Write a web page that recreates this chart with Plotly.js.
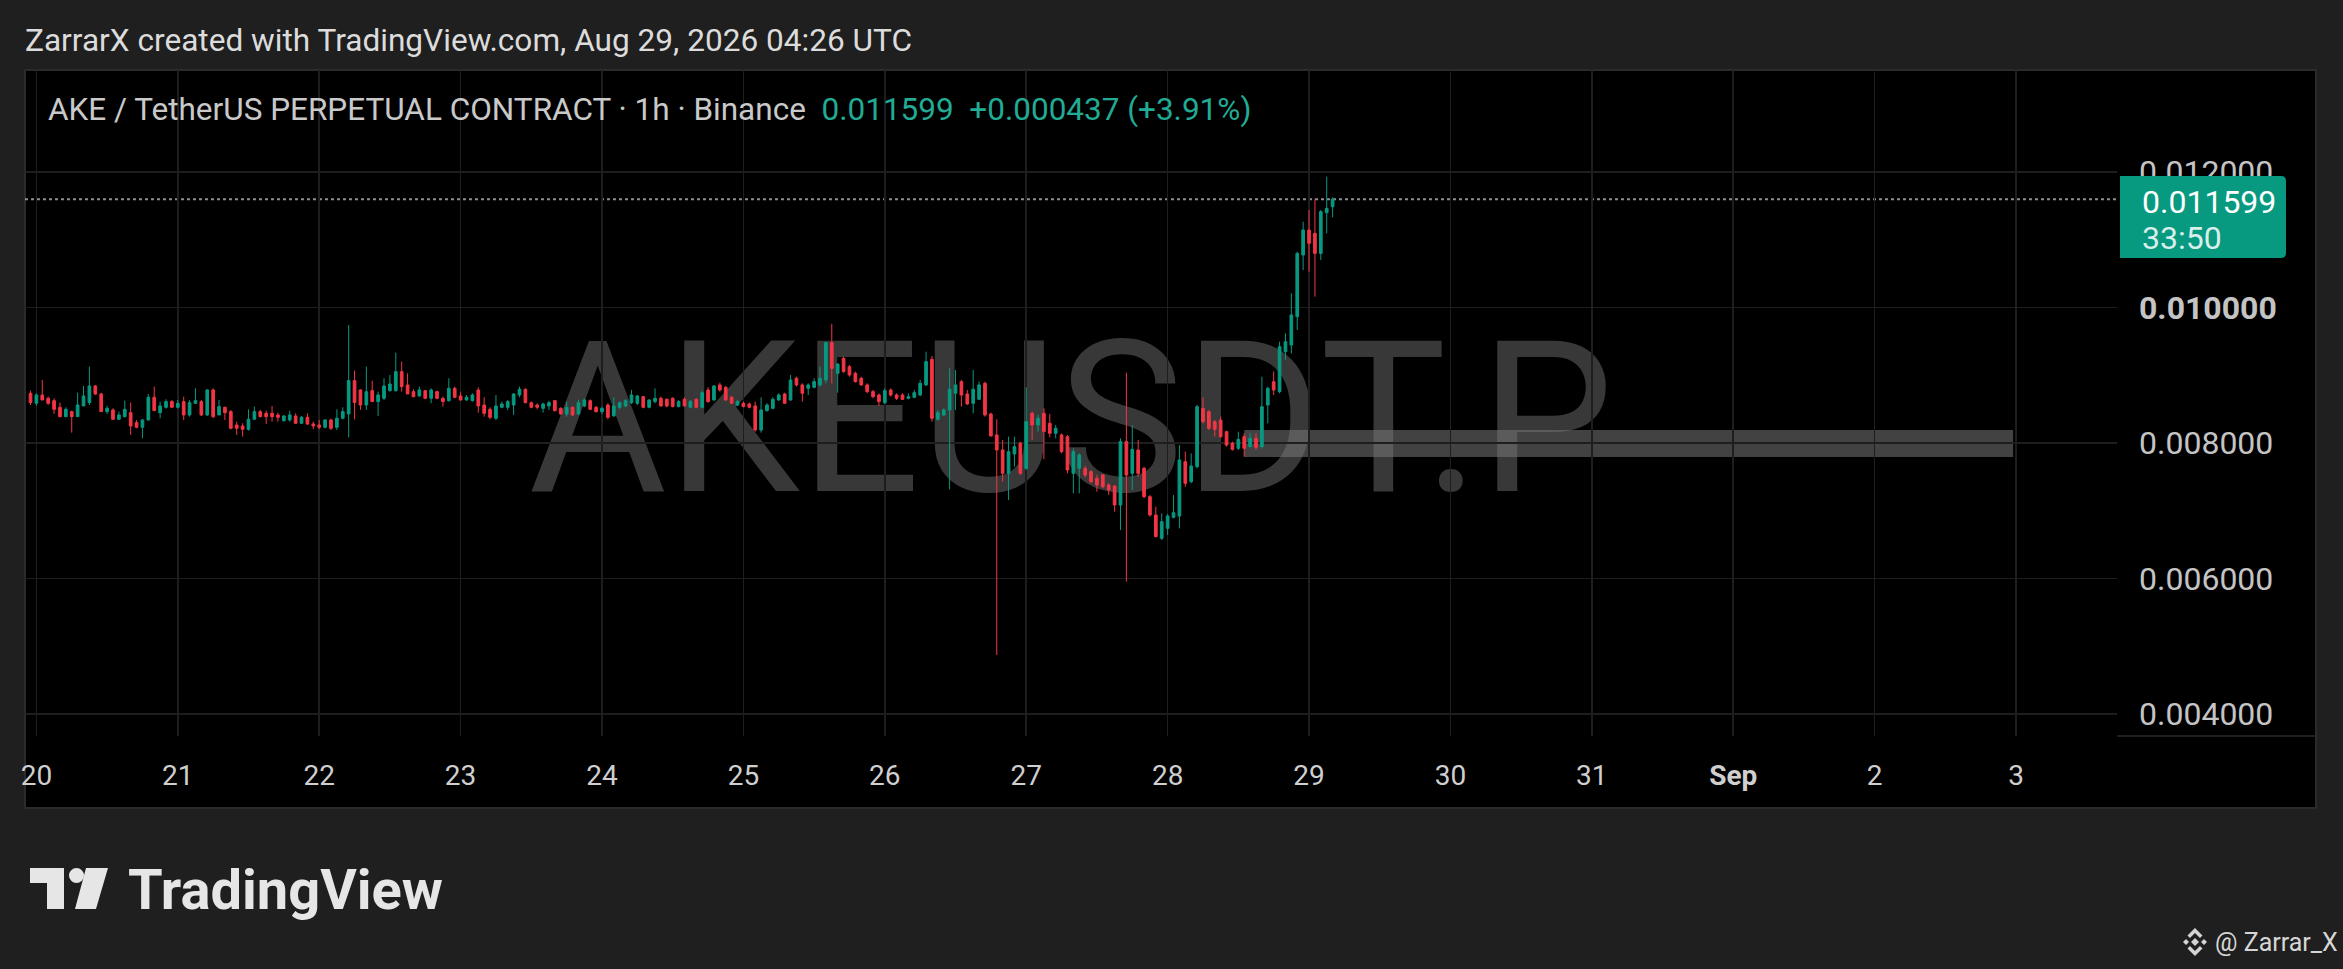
<!DOCTYPE html>
<html><head><meta charset="utf-8">
<script src="https://cdn.plot.ly/plotly-3.0.1.min.js"></script>
<style>html,body{margin:0;padding:0;background:#1f1f1f;overflow:hidden}#chart{width:2343px;height:969px}</style>
</head><body><div id="chart"></div>
<script>
// ---------- data ----------
const startTime = '2026-08-19T23:00:00Z'; // first hourly candle
const open = [
0.008734,0.008586,0.008709,0.008660,0.008625,0.008527,0.008389,0.008463,0.008389,0.008547,
0.008596,0.008842,0.008724,0.008463,0.008488,0.008350,0.008389,0.008448,0.008301,0.008232,
0.008340,0.008675,0.008448,0.008527,0.008611,0.008527,0.008611,0.008414,0.008586,0.008611,
0.008414,0.008783,0.008414,0.008527,0.008463,0.008266,0.008251,0.008202,0.008350,0.008463,
0.008438,0.008438,0.008414,0.008330,0.008340,0.008399,0.008291,0.008379,0.008281,0.008266,
0.008232,0.008340,0.008232,0.008365,0.008429,0.008921,0.008783,0.008561,0.008773,0.008611,
0.008660,0.008773,0.008773,0.009053,0.008857,0.008758,0.008694,0.008773,0.008660,0.008758,
0.008660,0.008625,0.008807,0.008694,0.008635,0.008625,0.008783,0.008561,0.008497,0.008365,
0.008527,0.008527,0.008561,0.008709,0.008793,0.008596,0.008561,0.008512,0.008547,0.008625,
0.008512,0.008429,0.008527,0.008429,0.008547,0.008625,0.008527,0.008463,0.008561,0.008399,
0.008527,0.008547,0.008596,0.008586,0.008684,0.008527,0.008611,0.008660,0.008645,0.008660,
0.008537,0.008645,0.008527,0.008645,0.008527,0.008783,0.008635,0.008857,0.008822,0.008675,
0.008561,0.008586,0.008576,0.008547,0.008192,0.008478,0.008512,0.008635,0.008724,0.008635,
0.008955,0.008857,0.008807,0.008822,0.008857,0.008930,0.009481,0.009029,0.009250,0.009127,
0.009029,0.008955,0.008857,0.008758,0.008709,0.008596,0.008783,0.008709,0.008709,0.008660,
0.008675,0.008709,0.008857,0.009235,0.008350,0.008414,0.008488,0.008734,0.008906,0.008724,
0.008586,0.008645,0.008881,0.008429,0.008118,0.007897,0.007553,0.007838,0.007995,0.007626,
0.008438,0.008266,0.008438,0.008291,0.008143,0.008118,0.008094,0.007552,0.007626,0.007626,
0.007577,0.007478,0.007528,0.007380,0.007365,0.007085,0.008020,0.007552,0.007897,0.007626,
0.007208,0.006937,0.006593,0.006740,0.006903,0.006922,0.007724,0.007429,0.007651,0.008512,
0.008462,0.008315,0.008339,0.008167,0.007995,0.007921,0.008094,0.007946,0.008069,0.007946,
0.008561,0.008905,0.008758,0.009348,0.009446,0.009865,0.010775,0.011144,0.011095,0.010799,
0.011400,0.011488];
const high = [
0.008773,0.008734,0.008930,0.008684,0.008660,0.008596,0.008527,0.008478,0.008743,0.008842,
0.009127,0.008857,0.008743,0.008547,0.008512,0.008463,0.008625,0.008596,0.008340,0.008350,
0.008724,0.008832,0.008611,0.008645,0.008635,0.008635,0.008684,0.008635,0.008807,0.008635,
0.008793,0.008807,0.008635,0.008537,0.008488,0.008315,0.008291,0.008497,0.008537,0.008488,
0.008478,0.008547,0.008448,0.008414,0.008478,0.008438,0.008399,0.008438,0.008315,0.008340,
0.008350,0.008360,0.008497,0.008527,0.009742,0.009068,0.008793,0.009127,0.008921,0.008758,
0.008955,0.009004,0.009334,0.009201,0.009029,0.008793,0.008832,0.008783,0.008807,0.008773,
0.008684,0.008955,0.008832,0.008758,0.008709,0.008734,0.008822,0.008675,0.008527,0.008709,
0.008611,0.008635,0.008734,0.008832,0.008807,0.008611,0.008586,0.008596,0.008625,0.008635,
0.008527,0.008611,0.008537,0.008635,0.008660,0.008645,0.008547,0.008537,0.008586,0.008675,
0.008611,0.008645,0.008783,0.008709,0.008694,0.008645,0.008807,0.008684,0.008660,0.008675,
0.008635,0.008675,0.008635,0.008660,0.008773,0.008822,0.008857,0.008891,0.008842,0.008694,
0.008635,0.008611,0.008596,0.008611,0.008675,0.008586,0.008675,0.008734,0.008743,0.009004,
0.008979,0.008881,0.008881,0.008955,0.009127,0.009496,0.009760,0.009176,0.009275,0.009152,
0.009053,0.008979,0.008881,0.008783,0.008734,0.008807,0.008807,0.008734,0.008734,0.008734,
0.008783,0.008930,0.009348,0.009284,0.008488,0.008512,0.009102,0.009078,0.008930,0.008783,
0.009078,0.008906,0.008906,0.008448,0.008350,0.008045,0.008094,0.008094,0.008020,0.008822,
0.008463,0.008414,0.008512,0.008429,0.008266,0.008143,0.008118,0.007921,0.007847,0.007660,
0.007602,0.007528,0.007542,0.007405,0.007380,0.008069,0.009038,0.008266,0.008044,0.007651,
0.007232,0.007060,0.006962,0.006952,0.007232,0.007970,0.007872,0.007847,0.008561,0.008674,
0.008487,0.008339,0.008389,0.008182,0.008020,0.008167,0.008143,0.008143,0.008143,0.008979,
0.008831,0.009053,0.009496,0.009619,0.010209,0.010824,0.011267,0.011439,0.011596,0.011439,
0.011931,0.011626];
const low = [
0.008561,0.008547,0.008635,0.008561,0.008429,0.008379,0.008379,0.008153,0.008389,0.008547,
0.008561,0.008709,0.008463,0.008429,0.008340,0.008340,0.008379,0.008119,0.008217,0.008069,
0.008330,0.008478,0.008365,0.008507,0.008517,0.008512,0.008340,0.008389,0.008576,0.008399,
0.008399,0.008365,0.008414,0.008340,0.008202,0.008119,0.008094,0.008183,0.008340,0.008379,
0.008281,0.008315,0.008315,0.008315,0.008315,0.008281,0.008281,0.008266,0.008202,0.008202,
0.008217,0.008192,0.008192,0.008350,0.008084,0.008350,0.008488,0.008488,0.008611,0.008399,
0.008635,0.008758,0.008758,0.008758,0.008724,0.008675,0.008684,0.008645,0.008586,0.008645,
0.008537,0.008611,0.008660,0.008625,0.008625,0.008611,0.008448,0.008389,0.008350,0.008340,
0.008512,0.008488,0.008414,0.008675,0.008586,0.008512,0.008497,0.008448,0.008488,0.008463,
0.008414,0.008389,0.008399,0.008414,0.008527,0.008488,0.008448,0.008429,0.008350,0.008389,
0.008497,0.008527,0.008576,0.008561,0.008512,0.008512,0.008586,0.008537,0.008527,0.008527,
0.008527,0.008537,0.008512,0.008512,0.008512,0.008596,0.008625,0.008758,0.008625,0.008576,
0.008547,0.008527,0.008512,0.008168,0.008153,0.008463,0.008497,0.008625,0.008576,0.008625,
0.008832,0.008611,0.008709,0.008807,0.008832,0.008881,0.008881,0.008743,0.009038,0.008979,
0.008891,0.008842,0.008734,0.008660,0.008547,0.008576,0.008684,0.008635,0.008635,0.008645,
0.008660,0.008694,0.008842,0.008315,0.008330,0.008399,0.007316,0.008488,0.008537,0.008561,
0.008438,0.008635,0.008389,0.008094,0.004871,0.007430,0.007159,0.007651,0.007528,0.007602,
0.008045,0.008168,0.007759,0.008084,0.008069,0.007848,0.007553,0.007257,0.007257,0.007493,
0.007405,0.007282,0.007331,0.007232,0.006986,0.006716,0.005953,0.007306,0.007503,0.007183,
0.006913,0.006608,0.006568,0.006642,0.006888,0.006740,0.007355,0.007405,0.007626,0.008290,
0.008192,0.008094,0.008069,0.007946,0.007887,0.007897,0.007798,0.007936,0.007897,0.007921,
0.008290,0.008708,0.008733,0.009225,0.009323,0.009668,0.010553,0.010529,0.010160,0.010701,
0.011095,0.011331];
const close = [
0.008596,0.008709,0.008635,0.008586,0.008497,0.008389,0.008497,0.008389,0.008561,0.008694,
0.008842,0.008724,0.008463,0.008512,0.008350,0.008414,0.008497,0.008251,0.008232,0.008340,
0.008675,0.008478,0.008547,0.008611,0.008527,0.008586,0.008414,0.008596,0.008625,0.008414,
0.008783,0.008389,0.008537,0.008448,0.008217,0.008217,0.008202,0.008350,0.008463,0.008389,
0.008389,0.008389,0.008379,0.008399,0.008414,0.008291,0.008379,0.008281,0.008251,0.008232,
0.008340,0.008217,0.008365,0.008463,0.008921,0.008596,0.008561,0.008758,0.008611,0.008709,
0.008842,0.008871,0.009053,0.008832,0.008724,0.008684,0.008783,0.008660,0.008783,0.008660,
0.008611,0.008807,0.008675,0.008635,0.008675,0.008709,0.008547,0.008438,0.008379,0.008547,
0.008576,0.008611,0.008724,0.008793,0.008596,0.008527,0.008527,0.008576,0.008596,0.008478,
0.008429,0.008527,0.008414,0.008596,0.008635,0.008497,0.008463,0.008512,0.008379,0.008547,
0.008596,0.008625,0.008709,0.008694,0.008527,0.008635,0.008660,0.008547,0.008547,0.008537,
0.008611,0.008547,0.008611,0.008527,0.008743,0.008611,0.008842,0.008783,0.008635,0.008586,
0.008611,0.008537,0.008527,0.008192,0.008488,0.008561,0.008645,0.008709,0.008586,0.008930,
0.008857,0.008734,0.008857,0.008906,0.008955,0.009481,0.009102,0.009166,0.009053,0.009004,
0.008906,0.008857,0.008758,0.008684,0.008611,0.008773,0.008709,0.008660,0.008645,0.008684,
0.008743,0.008881,0.009201,0.008364,0.008448,0.008488,0.008793,0.008857,0.008709,0.008576,
0.008793,0.008857,0.008414,0.008104,0.007897,0.007553,0.007872,0.007946,0.007553,0.008315,
0.008266,0.008364,0.008168,0.008143,0.008217,0.007872,0.007602,0.007872,0.007823,0.007528,
0.007429,0.007380,0.007355,0.007306,0.007085,0.008020,0.007528,0.007906,0.007552,0.007208,
0.006937,0.006618,0.006839,0.006922,0.006971,0.007749,0.007405,0.007660,0.008536,0.008315,
0.008216,0.008202,0.008094,0.007970,0.007906,0.008054,0.007921,0.008069,0.007936,0.008536,
0.008807,0.008782,0.009422,0.009496,0.009889,0.010799,0.011144,0.010947,0.010799,0.011414,
0.011464,0.011599];

const dayTicks = ['2026-08-20','2026-08-21','2026-08-22','2026-08-23','2026-08-24','2026-08-25','2026-08-26','2026-08-27','2026-08-28','2026-08-29','2026-08-30','2026-08-31','2026-09-01','2026-09-02','2026-09-03'];
const dayLabels = ['20','21','22','23','24','25','26','27','28','29','30','31','<b>Sep</b>','2','3'];
const priceTicks = [0.004, 0.006, 0.008, 0.010, 0.012];
const priceLabels = ['0.004000','0.006000','0.008000','<b>0.010000</b>','0.012000'];
const lastPrice = 0.011599;
const lastPriceText = '0.011599';
const countdownText = '33:50';
const headerText = 'ZarrarX created with TradingView.com, Aug 29, 2026 04:26 UTC';
const symbolText = 'AKE / TetherUS PERPETUAL CONTRACT · 1h · Binance';
const valuesText = '0.011599\u00a0\u00a0+0.000437 (+3.91%)';
const watermarkText = 'AKEUSDT.P';
const bandX = ['2026-08-28 13:00', '2026-09-02 23:30'];
const bandY = [0.007793, 0.008192];
const xRange = ['2026-08-19 22:04', '2026-09-03 17:08'];
const yRange = [0.003675, 0.013506];

// ---------- build ----------
const t0 = Date.parse(startTime);
const times = open.map((_, i) => new Date(t0 + i * 3600000).toISOString().slice(0, 16).replace('T', ' '));

const W = 2343, H = 969, L = 25, R = 2117, T = 70, B = 736;
const X = px => (px - L) / (R - L);
const Y = py => (B - py) / (B - T);
const P = (px, py) => X(px).toFixed(5) + ',' + Y(py).toFixed(5);
const poly = pts => 'M' + pts.map(p => P(p[0], p[1])).join('L') + 'Z';

const UP = '#089981', DOWN = '#f23645';
const FONT = 'Roboto, "Noto Sans", sans-serif';

const trace = {
  type: 'candlestick', x: times, open: open, high: high, low: low, close: close,
  increasing: {line: {color: UP, width: 1}, fillcolor: UP},
  decreasing: {line: {color: DOWN, width: 1}, fillcolor: DOWN},
  whiskerwidth: 0, hoverinfo: 'skip', showlegend: false
};

const paperShape = (extra) => Object.assign({xref: 'paper', yref: 'paper', line: {width: 0}}, extra);

const shapes = [
  // pane
  paperShape({type: 'rect', layer: 'below', x0: X(25), x1: X(2316), y0: Y(808), y1: Y(70), fillcolor: '#000000', line: {color: '#2b2b2b', width: 2}}),
  // watermark
  paperShape({type: 'rect', layer: 'below', x0: 0, x1: 1, y0: 0, y1: 1, fillcolor: 'rgba(0,0,0,0)',
    label: {text: watermarkText, textposition: 'middle center', font: {family: FONT, size: 212, color: '#383838'}}}),
  // drawn band
  {type: 'rect', layer: 'below', xref: 'x', yref: 'y', x0: bandX[0], x1: bandX[1], y0: bandY[0], y1: bandY[1],
    fillcolor: 'rgba(120,120,120,0.55)', line: {width: 0}},
  // last price dotted line
  {type: 'line', layer: 'below', xref: 'paper', yref: 'y', x0: 0, x1: 1, y0: lastPrice, y1: lastPrice,
    line: {color: 'rgba(190,190,190,0.75)', width: 2, dash: 'dot'}},
  // separator under price axis
  paperShape({type: 'line', layer: 'above', x0: X(2117), x1: X(2316), y0: Y(736), y1: Y(736), line: {color: '#2a2a2a', width: 1.5}}),
  // price box
  paperShape({type: 'path', layer: 'above', fillcolor: UP,
    path: 'M' + P(2120, 176) + 'L' + P(2281, 176) + 'Q' + P(2286, 176) + ' ' + P(2286, 181) + 'L' + P(2286, 253) + 'Q' + P(2286, 258) + ' ' + P(2281, 258) + 'L' + P(2120, 258) + 'Z'}),
  // TradingView logo
  paperShape({type: 'path', layer: 'above', fillcolor: '#e6e6e6', path: poly([[30,868],[64,868],[64,909],[47,909],[47,883],[30,883]])}),
  paperShape({type: 'circle', layer: 'above', fillcolor: '#e6e6e6', x0: X(69), x1: X(84), y0: Y(883), y1: Y(868)}),
  paperShape({type: 'path', layer: 'above', fillcolor: '#e6e6e6', path: poly([[86,868],[108,868],[96,909],[75,909]])}),
  // Binance mark
  paperShape({type: 'path', layer: 'above', fillcolor: '#d4d4d4', path: poly([[2195,938],[2199,942],[2195,946],[2191,942]])}),
  paperShape({type: 'path', layer: 'above', fillcolor: '#d4d4d4', path: poly([[2186,939],[2189,942],[2186,945],[2183,942]])}),
  paperShape({type: 'path', layer: 'above', fillcolor: '#d4d4d4', path: poly([[2204,939],[2207,942],[2204,945],[2201,942]])}),
  paperShape({type: 'path', layer: 'above', fillcolor: '#d4d4d4', path: poly([[2187.5,935.5],[2195,928],[2202.5,935.5],[2200,938],[2195,933],[2190,938]])}),
  paperShape({type: 'path', layer: 'above', fillcolor: '#d4d4d4', path: poly([[2187.5,948.5],[2195,956],[2202.5,948.5],[2200,946],[2195,951],[2190,946]])})
];

const ann = (text, px, py, size, color, extra) => Object.assign({
  text: text, xref: 'paper', yref: 'paper', x: X(px), y: Y(py), xanchor: 'left', yanchor: 'middle',
  showarrow: false, font: {family: FONT, size: size, color: color}
}, extra || {});

const annotations = [
  ann(headerText, 23, 40, 31.6, '#dcdcdc'),
  ann(symbolText + '\u00a0\u00a0<span style="color:#22ab94">' + valuesText + '</span>', 46, 110, 31.5, '#c9c9c9'),
  ann(lastPriceText, 2140, 202, 32, '#ffffff'),
  ann(countdownText, 2140, 238, 32, 'rgba(255,255,255,0.85)'),
  ann('TradingView', 126, 890, 56, '#e6e6e6', {font: {family: FONT, size: 56, color: '#e6e6e6', weight: 700}}),
  ann('@\u00a0Zarrar_X', 2213, 942, 25, '#d6d6d6')
];

const layout = {
  width: W, height: H,
  margin: {l: L, r: W - R, t: T, b: H - B, pad: 0},
  paper_bgcolor: '#1f1f1f', plot_bgcolor: 'rgba(0,0,0,0)',
  showlegend: false, boxgap: 0.35,
  font: {family: FONT},
  xaxis: {
    type: 'date', range: xRange, tickmode: 'array', tickvals: dayTicks, ticktext: dayLabels,
    showgrid: true, gridcolor: '#1e1e1e', gridwidth: 1.5, zeroline: false, showline: false, ticks: '',
    tickfont: {family: FONT, size: 28, color: '#cfcfcf'}, ticklabelstandoff: 20,
    rangeslider: {visible: false}, fixedrange: true
  },
  yaxis: {
    side: 'right', range: yRange, tickmode: 'array', tickvals: priceTicks, ticktext: priceLabels,
    showgrid: true, gridcolor: '#1e1e1e', gridwidth: 1.5, zeroline: false, showline: false, ticks: '',
    tickfont: {family: FONT, size: 32, color: '#c4c4c4'}, ticklabelstandoff: 21, fixedrange: true
  },
  shapes: shapes,
  annotations: annotations
};

Plotly.newPlot('chart', [trace], layout, {staticPlot: true, displayModeBar: false});
</script>
</body></html>
